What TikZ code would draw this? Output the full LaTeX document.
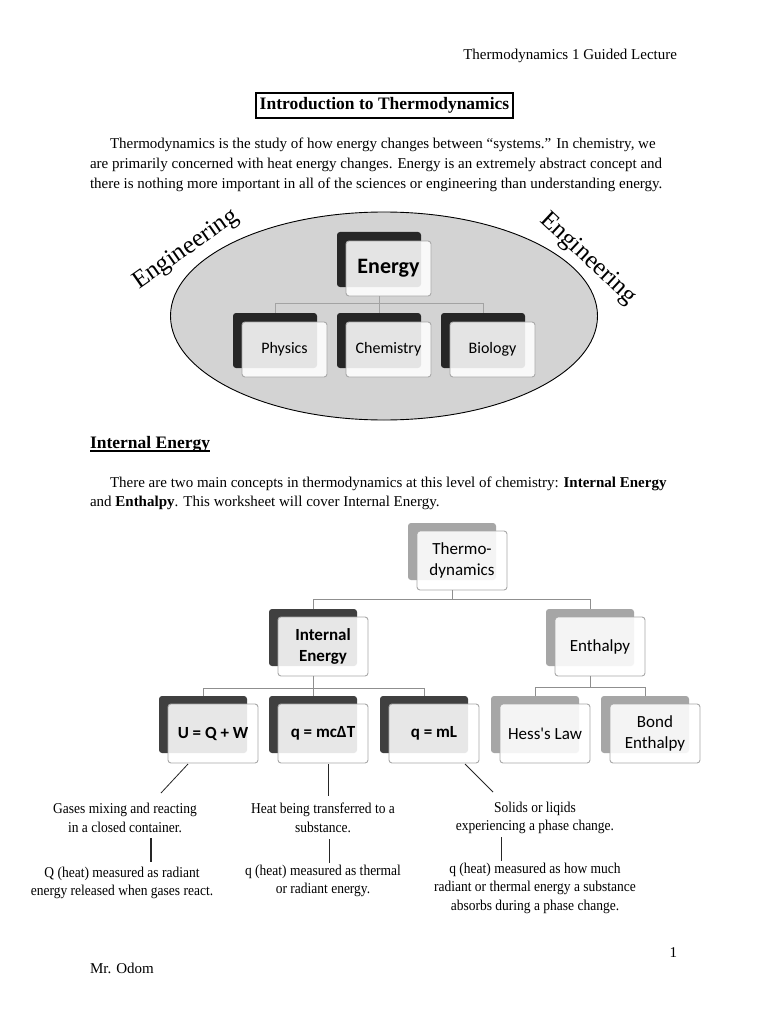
\documentclass[tikz,border=0pt]{standalone}
\usepackage{fontspec}
\setmainfont{Liberation Serif}
\newfontfamily\boxfont{Carlito}
\newfontfamily\notefont[FakeStretch=0.9]{Liberation Serif}
\definecolor{darkA}{HTML}{262626}
\definecolor{darkB}{HTML}{404040}
\definecolor{lightB}{HTML}{A6A6A6}
\definecolor{frontline}{HTML}{A8A8A8}
\definecolor{ellfill}{HTML}{D3D3D3}
\definecolor{connc}{HTML}{8F8F8F}
\definecolor{connA}{HTML}{A3A3A3}
\tikzset{
  txt/.style={inner sep=0pt, outer sep=0pt, font=\fontsize{15}{20}\selectfont},
  back1/.style={rectangle, rounded corners=3pt, minimum width=84pt, minimum height=55pt, inner sep=0pt, outer sep=0pt},
  front1/.style={rectangle, rounded corners=3pt, minimum width=85pt, minimum height=55pt, inner sep=0pt, outer sep=0pt,
    draw=frontline, line width=0.9pt, fill=white, fill opacity=0.88, text opacity=1, align=center,
    font=\boxfont\fontsize{16}{20}\selectfont},
  back2/.style={rectangle, rounded corners=3pt, minimum width=88pt, minimum height=57pt, inner sep=0pt, outer sep=0pt},
  front2/.style={rectangle, rounded corners=3pt, minimum width=90pt, minimum height=59pt, inner sep=0pt, outer sep=0pt,
    draw=frontline, line width=0.9pt, fill=white, fill opacity=0.88, text opacity=1, align=center,
    font=\boxfont\fontsize{17}{21.5}\selectfont},
  conn/.style={draw=connc, line width=0.9pt},
  connone/.style={draw=connA, line width=0.9pt},
  note/.style={inner sep=0pt, outer sep=0pt, align=center, font=\notefont\fontsize{15}{18.5}\selectfont},
  noteline/.style={draw=black!85, line width=0.8pt},
  eng/.style={inner sep=0pt, font=\fontsize{25}{30}\selectfont}
}
\newcommand\boxA[5]{%
  \node[back1, fill=#4] (#1b) at (#2+42,#3+27.5) {};
  \node[front1] (#1f) at (#2+51.5,#3+36.5) {#5};
}
\newcommand\boxB[5]{%
  \node[back2, fill=#4] (#1b) at (#2+44,#3+28.5) {};
  \node[front2] (#1f) at (#2+54,#3+37.5) {#5};
}
\begin{document}
\begin{tikzpicture}[x=1pt,y=-1pt]
\useasboundingbox[fill=white] (0,0) rectangle (768,1024);

% header
\node[txt, anchor=base east] (hdr) at (677,60) {Thermodynamics 1 Guided Lecture};
\node[draw, line width=1.2pt, inner sep=0pt, minimum width=257pt, minimum height=25pt,
  font=\bfseries\fontsize{17.5}{20}\selectfont] (title) at (384.5,105.5) {Introduction to Thermodynamics};

\node[txt, anchor=base west] (p1) at (110,149) {Thermodynamics is the study of how energy changes between “systems.” In chemistry, we};
\node[txt, anchor=base west] (p2) at (90,169) {are primarily concerned with heat energy changes. Energy is an extremely abstract concept and};
\node[txt, anchor=base west] (p3) at (90,189) {there is nothing more important in all of the sciences or engineering than understanding energy.};

% diagram 1
\draw[fill=ellfill, line width=0.9pt] (384,316) ellipse [x radius=213.5, y radius=104];
\node[eng, rotate=35] (engL) at (186,250) {Engineering};
\node[eng, rotate=-43] (engR) at (588,259) {Engineering};
\boxA{E}{337}{232}{darkA}{\bfseries\fontsize{22}{26}\selectfont Energy}
\boxA{P}{233}{313}{darkA}{Physics}
\boxA{C}{337}{313}{darkA}{Chemistry}
\boxA{B}{441}{313}{darkA}{Biology}
\coordinate (bus1) at (0,303);
\draw[connone] (Ef.south -| Eb) -- (Cb.north);
\draw[connone] (Pb.north) -- (Pb |- bus1) -- (Bb |- bus1) -- (Bb.north);

% section heading
\node[inner sep=0pt, outer sep=0pt, anchor=base west, font=\bfseries\fontsize{17.5}{20}\selectfont] (ieh) at (90,448) {Internal Energy};
\draw[line width=1.3pt] ([yshift=-3pt]ieh.base west) -- ([yshift=-3pt]ieh.base east);

\node[txt, anchor=base west] (q1) at (110,487) {There are two main concepts in thermodynamics at this level of chemistry: \textbf{Internal Energy}};
\node[txt, anchor=base west] (q2) at (90,506) {and \textbf{Enthalpy}. This worksheet will cover Internal Energy.};

% diagram 2
\boxB{T}{408}{523}{lightB}{Thermo-\\dynamics}
\boxB{IE}{269}{609}{darkB}{\bfseries Internal\\\bfseries Energy}
\boxB{EN}{546}{609}{lightB}{Enthalpy}
\boxB{U}{159}{696}{darkB}{\bfseries U = Q + W}
\boxB{QC}{269}{696}{darkB}{\bfseries q = mcΔT}
\boxB{QL}{380}{696}{darkB}{\bfseries q = mL}
\boxB{H}{491}{696}{lightB}{Hess's Law}
\boxB{BE}{601}{696}{lightB}{Bond\\Enthalpy}
\coordinate (bus2) at (0,599);
\coordinate (bus3) at (0,688);
\coordinate (bus4) at (0,687);
\draw[conn] (Tf.south -| Tb) -- (Tb |- bus2);
\draw[conn] (IEb.north) -- (IEb |- bus2) -- (ENb |- bus2) -- (ENb.north);
\draw[conn] (IEf.south -| IEb) -- (QCb.north);
\draw[conn] (Ub.north) -- (Ub |- bus3) -- (QLb |- bus3) -- (QLb.north);
\draw[conn] (ENf.south -| ENb) -- (ENb |- bus4);
\draw[conn] (Hb.north) -- (Hb |- bus4) -- (BEb |- bus4) -- (BEb.north);

% notes
\node[note] (n1a) at (125,818) {Gases mixing and reacting\\in a closed container.};
\node[note] (n1b) at (122,883) {Q (heat) measured as radiant\\energy released when gases react.};
\node[note] (n2a) at (323,818) {Heat being transferred to a\\substance.};
\node[note] (n2b) at (323,881) {q (heat) measured as thermal\\or radiant energy.};
\node[note] (n3a) at (535,818) {Solids or liqids\\experiencing a phase change.};
\node[note] (n3b) at (535,888) {q (heat) measured as how much\\radiant or thermal energy a substance\\absorbs during a phase change.};

\coordinate (a1) at (188,764);
\coordinate (a2) at (161,793);
\draw[noteline] (a1) -- (a2);
\coordinate (b1) at (328,764);
\coordinate (b2) at (328,796);
\draw[noteline] (b1) -- (b2);
\coordinate (c1) at (465,764);
\coordinate (c2) at (493,792);
\draw[noteline] (c1) -- (c2);
\coordinate (d1) at (151,838);
\coordinate (d2) at (151,862);
\draw[noteline, line width=1.8pt] (d1) -- (d2);
\coordinate (e1) at (329,839);
\coordinate (e2) at (329,863);
\draw[noteline] (e1) -- (e2);
\coordinate (f1) at (501,837);
\coordinate (f2) at (501,861);
\draw[noteline] (f1) -- (f2);

% footer
\node[txt, anchor=base east] (pg) at (677,957) {1};
\node[txt, anchor=base west] (auth) at (90,973) {Mr. Odom};
\end{tikzpicture}
\end{document}
